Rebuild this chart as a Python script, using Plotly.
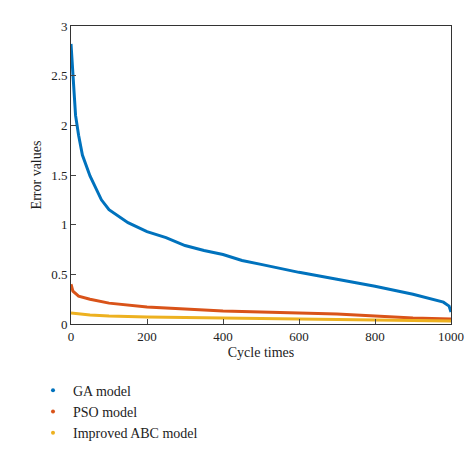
import plotly.graph_objects as go

cycles_ga = [0, 5, 12, 20, 30, 50, 80, 100, 150, 200, 250, 300, 350, 400, 450, 500, 600, 700, 800, 900, 950, 980, 995, 1000]
ga = [2.82, 2.5, 2.1, 1.9, 1.7, 1.49, 1.25, 1.15, 1.02, 0.93, 0.87, 0.79, 0.74, 0.70, 0.64, 0.60, 0.52, 0.45, 0.38, 0.30, 0.25, 0.22, 0.18, 0.12]
cycles_pso = [0, 5, 20, 50, 100, 200, 300, 400, 500, 600, 700, 800, 900, 1000]
pso = [0.40, 0.33, 0.28, 0.25, 0.21, 0.17, 0.15, 0.13, 0.12, 0.11, 0.10, 0.08, 0.06, 0.05]
cycles_abc = [0, 50, 100, 200, 400, 600, 800, 1000]
abc = [0.11, 0.09, 0.08, 0.07, 0.06, 0.05, 0.045, 0.03]

names = ["GA model", "PSO model", "Improved ABC model"]
colors = ["#0072BD", "#D95319", "#EDB120"]
series = [(cycles_ga, ga), (cycles_pso, pso), (cycles_abc, abc)]
serif = "Liberation Serif"

fig = go.Figure()
for (x, y), c in zip(series, colors):
    fig.add_trace(go.Scatter(x=x, y=y, mode="lines", line=dict(color=c, width=3),
                             showlegend=False))
for n, c in zip(names, colors):
    fig.add_trace(go.Scatter(x=[None], y=[None], mode="markers", name=n,
                             marker=dict(color=c, size=4)))

axis = dict(showline=True, linecolor="#333", mirror=True, ticks="inside", ticklen=5,
            showgrid=False, zeroline=False, automargin=False,
            tickfont=dict(family=serif, size=13, color="#222"))
fig.update_layout(
    width=474, height=453, plot_bgcolor="white", paper_bgcolor="white",
    margin=dict(l=63, r=31, t=18, b=133),
    font=dict(family=serif, size=13, color="#222"),
    xaxis=dict(axis, range=[0, 1000], dtick=200,
               title=dict(text="Cycle times", standoff=4, font=dict(family=serif, size=14))),
    yaxis=dict(axis, range=[0, 3], dtick=0.5,
               title=dict(text="Error values", standoff=6, font=dict(family=serif, size=14))),
    legend=dict(x=-0.1, y=-0.17, xanchor="left", yanchor="top",
                font=dict(family=serif, size=14), itemwidth=30, tracegroupgap=0),
)
fig.write_html("out.html")
